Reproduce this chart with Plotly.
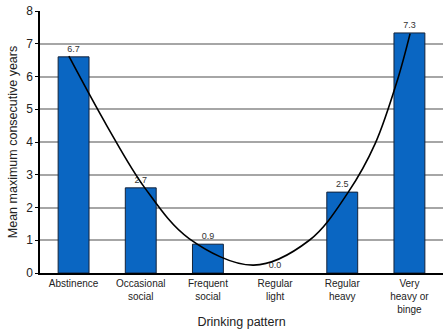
import plotly.graph_objects as go

categories = ["Abstinence", "Occasional<br>social", "Frequent<br>social",
              "Regular<br>light", "Regular<br>heavy", "Very<br>heavy or<br>binge"]
bar_values = [6.6, 2.6, 0.88, 0.0, 2.47, 7.33]
bar_labels = ["6.7", "2.7", "0.9", "0.0", "2.5", "7.3"]

# trend curve (x in category-index units)
trend_x = [-0.07, 0.5, 1.06, 1.72, 2.68, 3.51, 4.09, 4.49, 4.83, 5.01]
trend_y = [6.62, 4.48, 2.6, 1.05, 0.24, 1.0, 2.47, 3.95, 5.95, 7.31]

y_ticks = [0, 1, 2, 3, 4, 5, 6, 7, 8]

xpos = list(range(len(categories)))
outline_widths = [0 if v == 0 else 1 for v in bar_values]

fig = go.Figure()
fig.add_trace(go.Bar(
    x=xpos, y=bar_values, width=0.46,
    marker=dict(color="#0a66c2", line=dict(color="#14233a", width=outline_widths)),
    text=bar_labels, textposition="outside", cliponaxis=False,
    textfont=dict(family="Liberation Sans, Arial", size=9, color="#333333"),
    hoverinfo="skip", showlegend=False,
))
fig.add_trace(go.Scatter(
    x=trend_x, y=trend_y, mode="lines",
    line=dict(color="black", width=1.6, shape="spline", smoothing=1.0),
    hoverinfo="skip", showlegend=False,
))

fig.update_layout(
    width=443, height=333,
    margin=dict(l=40, r=0, t=11, b=60),
    plot_bgcolor="white", paper_bgcolor="white",
    font=dict(family="Liberation Sans, Arial", color="#222222"),
    xaxis=dict(
        range=[-0.5, 5.5], tickmode="array", tickvals=xpos, ticktext=categories,
        showgrid=False, showline=True, linecolor="black", linewidth=1.5,
        ticks="", tickfont=dict(size=10, color="#222222"),
        title=dict(text="Drinking pattern", font=dict(size=12.5, color="#222222"), standoff=3),
        zeroline=False, fixedrange=True,
    ),
    yaxis=dict(
        range=[0, 8], tickmode="array", tickvals=y_ticks,
        showgrid=True, gridcolor="#a6a6a6", gridwidth=1.5,
        showline=True, linecolor="black", linewidth=1.5,
        ticks="outside", ticklen=3, tickcolor="black",
        tickfont=dict(size=12, color="#222222"),
        title=dict(text="Mean maximum consecutive years", font=dict(size=12.5, color="#222222"), standoff=6),
        zeroline=False, fixedrange=True,
    ),
)

fig.write_html("out.html")
